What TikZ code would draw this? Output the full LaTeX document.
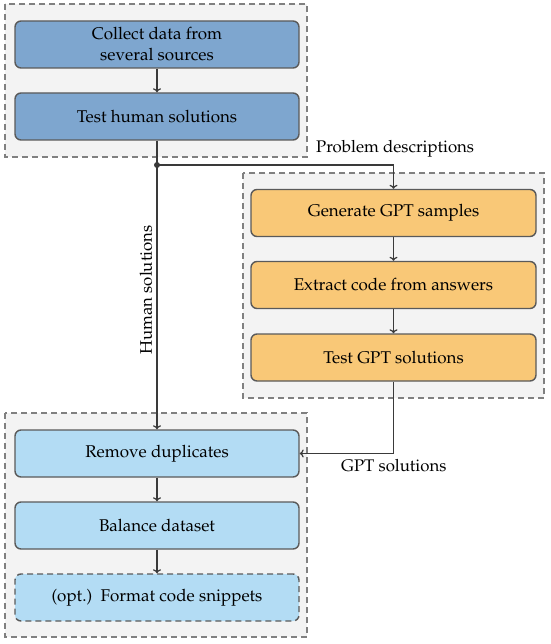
\documentclass[tikz,border=0pt]{standalone}
\usepackage[T1]{fontenc}
\usepackage{mathpazo}
\usetikzlibrary{positioning,calc,arrows.meta}
\definecolor{grpfill}{HTML}{F3F3F3}
\definecolor{grpline}{HTML}{808080}
\definecolor{boxline}{HTML}{5A5A5A}
\definecolor{darkblue}{HTML}{7EA6CF}
\definecolor{orangebox}{HTML}{F9C877}
\definecolor{lightblue}{HTML}{B3DCF4}
\definecolor{conn}{HTML}{3A3A3A}
\tikzset{
  grp/.style={draw=grpline, fill=grpfill, line width=1.2pt, dash pattern=on 6pt off 4pt},
  stepbox/.style={draw=boxline, line width=1.4pt, rounded corners=6pt, minimum width=284pt, minimum height=47pt, align=center, font=\fontsize{17}{21}\selectfont, inner sep=0pt},
  conline/.style={draw=conn, line width=1.2pt},
  arr/.style={conline, -{To[length=4pt,width=8pt]}},
  lbl/.style={font=\fontsize{16.8}{18}\selectfont, inner sep=0pt}
}
\begin{document}
\begin{tikzpicture}[x=1pt,y=-1pt]
\useasboundingbox (0,0) rectangle (550,644);
% groups
\draw[grp] (5,4) rectangle (307,157);
\draw[grp] (243,173) rectangle (544,398);
\draw[grp] (5,413) rectangle (307,637);
% boxes
\node[stepbox, fill=darkblue] (collect) at (157,44.5) {Collect data from\\several sources};
\node[stepbox, fill=darkblue] (testh) at (157,116.5) {Test human solutions};
\node[stepbox, fill=orangebox, minimum width=285pt] (gen) at (393.5,213) {Generate GPT samples};
\node[stepbox, fill=orangebox, minimum width=285pt] (extract) at (393.5,285) {Extract code from answers};
\node[stepbox, fill=orangebox, minimum width=285pt] (testg) at (393.5,357.5) {Test GPT solutions};
\node[stepbox, fill=lightblue] (remove) at (157,453.5) {Remove duplicates};
\node[stepbox, fill=lightblue] (balance) at (157,525.5) {Balance dataset};
\node[stepbox, fill=lightblue, dash pattern=on 6pt off 4pt] (format) at (157,597.5) {(opt.)~~Format code snippets};
% connectors
\draw[arr] (collect) -- (testh);
\coordinate (split) at (157,165);
\draw[conline] (testh.south) -- (split);
\draw[arr] (split) -- (remove.north);
\draw[arr] (split) -| (gen.north);
\fill[conn] (split) circle (3pt);
\draw[arr] (gen) -- (extract);
\draw[arr] (extract) -- (testg);
\draw[arr] (testg.south) |- (remove.east);
\draw[arr] (remove) -- (balance);
\draw[arr] (balance) -- (format);
% labels
\node[lbl, anchor=west] (pd) at (316,149) {Problem descriptions};
\node[lbl, rotate=90] (hs) at (146,290) {Human solutions};
\node[lbl, anchor=west] (gs) at (341,466) {GPT solutions};
\end{tikzpicture}
\end{document}
